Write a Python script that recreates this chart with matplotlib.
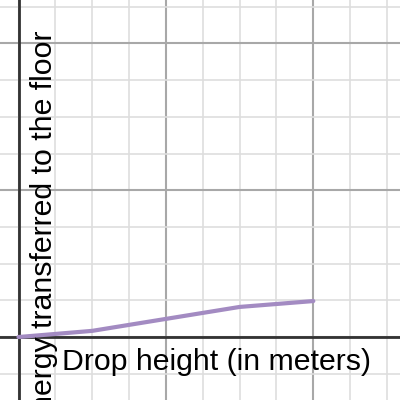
import matplotlib.pyplot as plt
import numpy as np

# drop height (m) vs energy transferred
drop_height = [0.0, 0.5, 1.5, 2.0]
energy = [0.0, 0.042, 0.205, 0.245]

x_label = "Drop height (in meters)"
y_label = "Energy transferred to the floor"

fig = plt.figure(figsize=(4, 4), dpi=100)
ax = fig.add_axes([0, 0, 1, 1])
ax.set_xlim(-0.1255, 2.588)
ax.set_ylim(-0.429, 2.296)

# grid: minor every 0.25, major every 1
for v in np.arange(-0.25, 2.6, 0.25):
    major = abs(v - round(v)) < 1e-6
    ax.axvline(v, color="#a8a8a8" if major else "#dedede", lw=1.5 if major else 1.2, zorder=0)
for v in np.arange(-0.5, 2.3, 0.25):
    major = abs(v - round(v)) < 1e-6
    ax.axhline(v, color="#a8a8a8" if major else "#dedede", lw=1.5 if major else 1.2, zorder=0)
ax.axvline(0, color="#333333", lw=2, zorder=1)
ax.axhline(0, color="#333333", lw=2, zorder=1)

ax.plot(drop_height, energy, color="#a38bc2", lw=3, solid_capstyle="round", zorder=3)

# text placed in pixels (origin bottom-left)
font = ["Liberation Sans", "DejaVu Sans"]
ax.text(62, 30, x_label, transform=None, fontsize=21.8, family=font,
        ha="left", va="baseline", zorder=4)
ax.text(58, 370, y_label, transform=None, fontsize=21.8, family=font,
        rotation=90, ha="right", va="top", zorder=4)

for s in ax.spines.values():
    s.set_visible(False)
ax.set_xticks([])
ax.set_yticks([])
fig.savefig("out.png", dpi=100)
